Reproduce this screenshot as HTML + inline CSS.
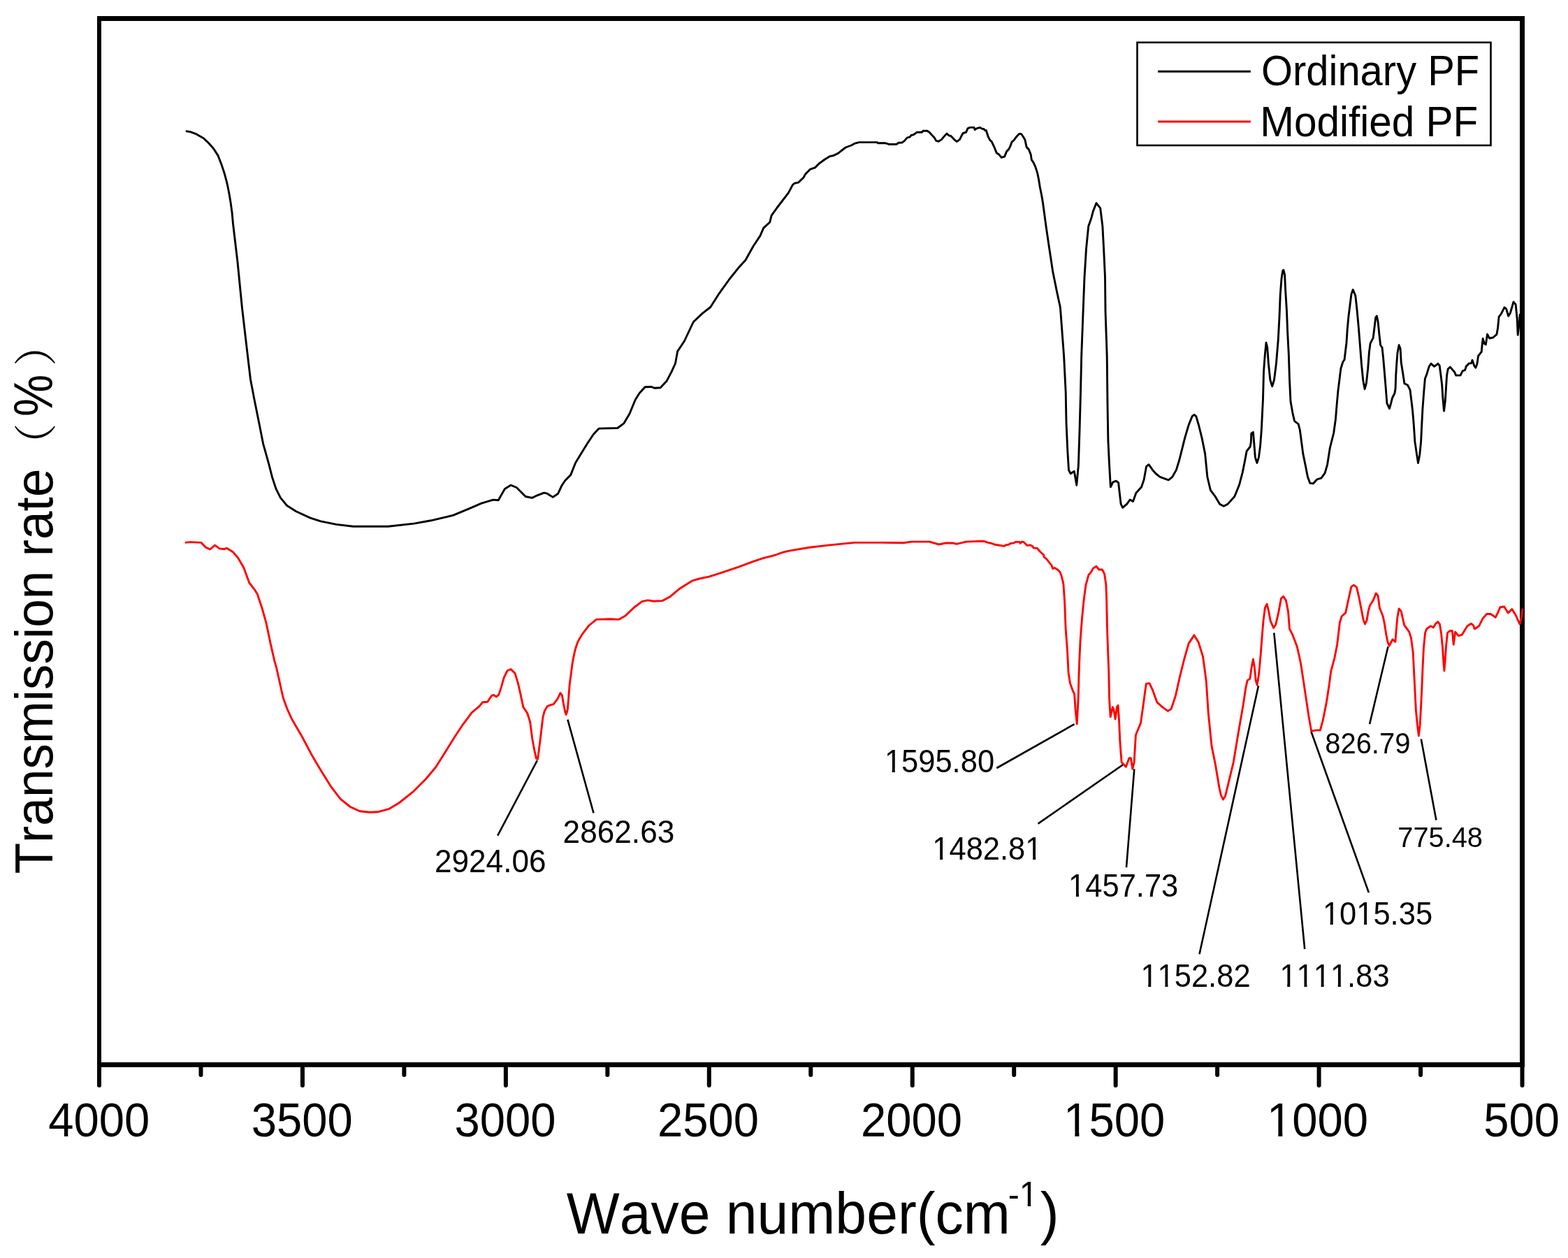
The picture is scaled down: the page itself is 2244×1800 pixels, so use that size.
<!DOCTYPE html>
<html><head><meta charset="utf-8"><title>FTIR spectra</title><style>html,body{margin:0;padding:0;background:#fff}body{width:2244px;height:1800px;overflow:hidden}svg{display:block}text{font-kerning:none;font-variant-ligatures:none;font-feature-settings:"kern" 0,"liga" 0}</style></head><body>
<svg width="2244" height="1800" viewBox="0 0 2244 1800" font-family='"Liberation Sans", Arial, "Noto Sans CJK SC", sans-serif' fill="#000">
<rect x="0" y="0" width="2244" height="1800" fill="#fff"/>
<rect x="139" y="23" width="2043" height="7"/>
<rect x="139" y="1520" width="2043" height="7"/>
<rect x="139" y="23" width="6" height="1504"/>
<rect x="2175" y="23" width="7" height="1504"/>
<polyline points="265.8,187.6 272.3,188.6 279.7,191.3 290.8,197.4 298.2,204.3 305.7,212.7 312.2,222.9 316.8,234.9 321.4,248.8 325.1,262.8 327.9,276.7 330.2,290.6 332.1,304.5 333.5,320.0 339.9,374.2 346.4,440.0 353.7,502.6 358.5,543.0 364.1,572.2 369.7,600.0 376.6,634.8 384.8,664.1 389.5,682.7 395.0,699.4 401.5,712.4 410.8,723.5 423.8,731.8 444.2,741.1 459.0,745.8 481.3,750.4 505.4,753.2 555.5,753.2 592.6,749.1 616.8,744.8 648.3,737.4 670.6,728.1 689.1,720.1 705.8,715.1 713.2,715.7 722.5,699.4 730.9,694.2 739.2,697.5 752.2,710.5 761.5,712.4 766.9,709.7 778.5,705.1 783.1,706.2 791.2,711.4 798.7,706.2 804.0,694.7 808.6,687.7 816.7,679.6 823.6,662.3 830.6,650.7 839.8,635.7 849.1,621.8 857.2,613.1 883.8,612.5 893.0,605.6 901.1,591.7 909.2,572.0 915.0,562.8 923.1,553.8 932.3,553.5 937.0,555.3 945.1,554.7 954.3,544.9 961.2,531.6 966.5,520.0 969.7,502.6 979.4,488.0 992.4,460.5 1005.3,448.4 1016.7,439.5 1028.0,421.7 1044.2,399.0 1057.2,382.8 1066.9,372.3 1078.2,352.0 1087.9,337.4 1092.8,326.1 1101.7,318.0 1104.1,308.3 1112.2,297.0 1128.4,275.9 1134.5,264.4 1137.4,262.2 1142.6,261.1 1150.0,254.0 1152.3,249.6 1159.7,242.1 1166.4,239.9 1172.3,234.0 1180.5,228.0 1187.9,223.6 1193.1,222.5 1199.8,219.1 1203.5,216.2 1210.1,211.0 1218.3,208.0 1222.8,205.4 1229.4,203.6 1255.4,203.6 1256.2,204.7 1266.5,204.7 1272.5,206.5 1282.9,206.5 1285.8,204.3 1290.9,204.1 1294.5,201.4 1298.1,197.1 1302.3,195.9 1304.1,193.5 1307.7,192.6 1312.0,189.3 1319.2,189.3 1321.0,187.2 1327.0,187.2 1330.1,189.3 1332.5,192.0 1337.3,197.1 1339.7,201.4 1343.3,202.3 1347.5,199.6 1350.6,195.9 1354.8,191.1 1358.4,194.1 1360.8,194.4 1365.6,199.6 1369.3,202.6 1373.5,199.6 1376.5,193.5 1378.3,190.5 1382.5,189.3 1384.9,183.9 1388.0,182.4 1394.0,182.4 1395.2,185.7 1397.6,183.9 1402.4,182.4 1405.5,184.2 1407.9,184.5 1410.0,186.9 1411.3,186.5 1413.9,194.8 1416.5,200.1 1419.2,202.7 1422.6,209.8 1426.3,218.9 1429.0,220.4 1433.1,225.3 1437.6,224.1 1440.6,216.6 1443.6,213.6 1445.9,209.1 1448.1,203.1 1451.1,200.5 1454.1,196.3 1458.6,191.4 1461.7,191.8 1464.7,196.3 1466.9,200.1 1469.2,210.6 1472.2,213.6 1475.2,221.1 1476.3,228.6 1478.9,232.4 1482.0,239.2 1484.6,247.4 1486.5,256.5 1488.3,267.7 1490.6,279.0 1492.5,290.3 1497.0,323.8 1501.8,356.2 1506.7,388.6 1512.3,416.2 1517.4,440.0 1522.6,509.4 1525.2,561.5 1526.0,604.8 1527.8,644.8 1529.5,672.5 1532.1,677.7 1537.3,674.3 1540.8,694.2 1543.4,665.6 1545.1,613.5 1546.5,561.5 1547.7,509.4 1550.3,440.0 1552.0,396.7 1554.5,356.2 1557.7,323.8 1561.7,312.5 1564.2,302.8 1569.0,290.6 1574.7,297.9 1577.9,323.8 1579.6,356.2 1581.5,396.7 1582.0,445.0 1584.2,509.4 1585.0,578.8 1585.9,630.9 1587.6,665.6 1589.4,696.8 1592.8,689.9 1597.2,688.1 1600.6,690.7 1604.1,721.1 1606.7,726.3 1612.8,721.1 1617.1,715.0 1621.5,717.6 1625.8,705.5 1633.6,696.8 1637.1,686.4 1640.6,667.3 1644.0,664.7 1651.0,674.3 1654.5,678.0 1660.0,682.4 1672.3,686.9 1677.8,682.4 1683.4,672.4 1687.8,658.0 1692.3,640.1 1695.6,626.8 1701.2,607.9 1706.2,595.6 1709.0,593.4 1711.8,595.6 1715.7,609.0 1720.1,626.8 1724.6,649.1 1727.9,682.5 1732.4,701.4 1739.1,710.3 1745.7,721.4 1751.3,724.2 1756.9,721.4 1766.9,710.3 1773.6,693.6 1778.0,676.9 1781.4,660.2 1784.1,645.7 1789.2,639.0 1790.3,632.4 1790.8,620.1 1793.4,618.4 1794.7,633.5 1796.4,654.6 1798.9,662.4 1801.4,654.6 1803.6,637.9 1805.3,615.7 1806.4,593.4 1807.5,571.1 1808.5,532.0 1810.2,508.8 1812.0,490.3 1813.7,497.2 1815.4,520.4 1817.8,543.5 1820.7,552.8 1823.5,543.5 1826.4,520.4 1829.3,485.7 1831.1,451.0 1832.2,422.1 1834.0,398.9 1835.7,387.4 1836.8,386.2 1838.6,393.1 1839.7,416.3 1841.5,445.2 1842.6,474.1 1844.4,508.8 1845.5,543.5 1847.0,574.5 1850.4,593.4 1852.6,602.3 1858.2,606.8 1860.4,615.7 1862.6,632.4 1864.8,649.1 1868.2,665.8 1871.5,682.5 1874.9,691.4 1879.3,691.9 1884.9,685.8 1890.8,684.1 1896.1,676.9 1899.7,664.3 1903.3,641.0 1908.7,619.5 1911.4,600.0 1913.1,579.3 1914.9,559.6 1917.2,541.1 1918.9,527.2 1921.8,518.0 1924.1,514.5 1925.3,504.1 1927.0,490.2 1928.2,471.7 1929.9,453.2 1932.2,434.7 1934.0,420.8 1936.3,414.5 1939.8,423.1 1942.1,444.0 1944.4,469.4 1946.7,498.3 1948.5,521.5 1950.8,544.6 1953.1,556.7 1955.4,548.1 1957.7,527.2 1959.4,504.1 1961.1,491.4 1965.2,483.3 1966.9,469.4 1968.7,454.4 1970.4,452.1 1972.2,461.3 1973.9,478.7 1975.6,493.7 1978.0,497.2 1979.7,513.4 1981.4,533.0 1983.2,555.0 1984.9,577.0 1988.5,584.5 1990.8,576.4 1992.5,569.5 1996.0,562.5 1997.1,555.6 1997.7,537.1 1998.9,518.6 2000.0,504.7 2002.1,493.7 2004.1,498.9 2005.2,518.6 2007.6,533.6 2009.9,548.7 2014.5,551.0 2018.0,557.9 2019.7,571.8 2021.4,585.7 2023.2,606.5 2024.9,631.9 2027.8,651.6 2029.5,662.6 2031.8,650.5 2033.6,631.9 2034.7,608.8 2035.9,585.7 2037.6,562.5 2039.4,541.7 2041.7,535.9 2045.2,524.4 2048.0,520.3 2052.7,524.4 2057.9,520.3 2060.2,523.2 2061.9,535.9 2063.7,551.0 2064.8,568.3 2066.5,588.0 2068.3,574.1 2069.4,555.6 2070.6,537.1 2072.3,527.8 2075.4,525.1 2081.6,532.4 2083.7,537.1 2090.0,537.1 2093.1,530.9 2096.7,529.3 2098.3,524.1 2102.5,519.9 2105.6,519.9 2107.1,515.3 2109.7,523.1 2111.8,526.2 2113.9,521.0 2115.5,509.5 2120.2,503.3 2121.2,492.9 2122.2,484.5 2124.3,491.8 2126.4,492.9 2128.5,478.3 2131.6,484.0 2136.8,483.0 2142.0,478.3 2143.6,468.9 2145.1,453.3 2148.3,449.1 2153.0,439.8 2155.6,441.9 2158.7,452.3 2161.3,448.1 2166.0,432.0 2169.1,435.6 2171.2,456.4 2172.2,479.3 2174.3,461.6 2175.3,449.1" fill="none" stroke="#000" stroke-width="2.9" stroke-linejoin="round" stroke-linecap="butt"/>
<polyline points="264.8,776.4 272.4,775.6 288.0,776.4 294.3,783.1 300.7,786.0 307.6,780.2 314.0,784.9 320.9,785.7 324.4,784.3 333.7,790.1 340.6,798.2 348.7,812.1 356.8,834.0 364.9,844.4 368.4,850.2 375.3,871.0 381.1,891.9 386.9,919.6 392.7,945.1 395.5,955.0 399.7,973.7 405.3,998.7 410.9,1014.0 417.8,1029.3 431.7,1053.0 445.7,1079.4 459.6,1103.1 473.5,1125.3 487.4,1143.4 501.3,1154.5 515.2,1160.8 529.1,1162.2 540.3,1161.8 557.0,1157.3 570.9,1149.0 591.8,1132.3 609.8,1114.2 623.8,1097.5 640.4,1071.0 651.6,1053.0 662.7,1036.3 675.2,1019.6 685.9,1010.6 690.8,1004.7 697.7,1004.2 703.6,995.4 706.5,994.4 710.5,996.9 713.9,993.9 717.4,983.1 721.3,969.3 726.2,959.5 731.1,957.5 737.0,963.4 741.0,976.2 744.9,992.9 748.8,1011.6 754.7,1020.5 758.7,1033.2 761.6,1055.9 764.6,1072.6 767.5,1085.4 769.5,1086.3 771.4,1072.6 774.4,1048.0 776.9,1026.4 779.3,1017.5 783.2,1010.6 788.2,1008.7 792.1,1007.7 798.0,999.8 801.9,991.5 804.4,994.9 806.4,1006.7 808.8,1018.5 810.3,1022.4 812.3,1015.5 813.7,998.8 815.2,979.2 817.2,964.4 819.1,949.7 820.5,942.0 823.0,930.0 827.0,918.0 833.9,906.6 842.3,895.5 853.4,886.4 872.9,885.7 885.4,886.4 895.1,880.9 907.7,869.0 918.8,860.7 927.1,858.9 935.5,860.3 948.0,859.6 959.1,853.7 973.1,841.9 991.1,830.8 1000.9,828.0 1014.8,825.2 1035.7,818.3 1056.5,811.3 1077.4,803.7 1091.3,798.8 1105.2,795.3 1110.0,794.0 1120.0,790.4 1129.5,788.1 1158.7,783.2 1187.9,779.9 1223.0,776.4 1262.0,776.4 1293.1,776.8 1304.8,775.1 1330.1,775.1 1343.8,779.0 1353.5,777.0 1363.3,777.0 1369.1,778.4 1382.7,775.1 1406.0,774.2 1409.6,774.8 1413.9,776.3 1419.3,777.5 1424.1,779.3 1430.1,780.2 1437.4,781.4 1439.2,779.9 1443.4,779.3 1446.4,777.5 1451.3,776.9 1453.1,775.4 1459.1,775.4 1460.3,777.5 1462.1,775.1 1465.1,775.7 1469.9,780.5 1474.8,779.9 1478.4,782.3 1479.0,784.1 1484.4,784.4 1488.6,789.5 1493.5,793.8 1494.1,796.8 1497.7,799.8 1502.5,805.8 1504.9,808.8 1506.7,813.7 1509.1,812.5 1513.4,814.9 1517.0,818.5 1519.4,825.1 1521.2,832.4 1522.0,836.8 1523.6,860.3 1525.1,899.3 1527.5,930.5 1529.0,961.8 1531.4,977.4 1535.3,988.3 1537.6,993.0 1539.2,1016.4 1541.2,1035.9 1543.1,1000.8 1543.9,969.6 1544.7,946.2 1546.2,914.9 1548.6,883.7 1550.9,860.3 1554.0,836.8 1557.9,822.8 1561.8,818.1 1564.2,813.4 1568.9,810.3 1572.8,815.0 1577.4,815.0 1580.6,821.2 1582.9,836.8 1583.7,860.3 1584.5,899.3 1585.6,930.5 1586.8,961.8 1587.6,1000.8 1589.2,1025.8 1592.3,1011.7 1593.8,1014.9 1596.2,1028.9 1598.5,1011.7 1600.1,1009.4 1601.6,1032.0 1602.8,1059.6 1605.1,1090.8 1611.4,1097.1 1616.1,1084.6 1618.4,1084.6 1620.8,1100.2 1623.1,1090.8 1625.4,1051.8 1632.5,1034.6 1635.6,1012.7 1640.3,978.4 1645.0,977.6 1649.7,987.7 1655.9,1004.9 1663.7,1011.9 1671.5,1017.4 1676.2,1014.3 1682.4,995.5 1688.7,967.4 1694.9,942.5 1701.2,920.6 1709.0,908.9 1715.2,919.0 1721.5,939.3 1726.2,973.7 1729.3,1020.5 1734.0,1067.4 1739.4,1093.9 1744.9,1126.7 1747.3,1137.6 1750.4,1143.9 1753.5,1139.2 1755.8,1129.8 1765.2,1090.8 1773.0,1044.0 1779.3,1008.0 1782.5,986.3 1785.1,973.6 1788.9,971.1 1790.8,957.1 1793.4,943.1 1795.3,954.5 1797.2,973.6 1799.1,980.0 1801.6,964.7 1804.2,936.7 1806.1,911.3 1808.0,888.4 1810.5,869.3 1813.1,864.2 1815.6,874.4 1818.2,888.4 1822.6,898.5 1825.8,893.4 1829.6,876.9 1833.4,856.5 1836.6,853.4 1840.4,859.1 1843.6,875.6 1845.5,899.8 1850.0,908.7 1856.3,925.3 1861.4,948.2 1865.3,973.6 1869.1,999.1 1872.9,1024.5 1876.7,1046.1 1883.1,1044.9 1889.4,1044.9 1893.2,1030.9 1898.3,1005.4 1902.2,980.0 1904.7,960.9 1909.8,941.8 1913.6,922.7 1917.4,890.9 1920.0,882.0 1925.7,876.9 1927.6,868.0 1931.4,850.2 1933.9,839.7 1937.4,837.1 1941.4,840.2 1944.9,854.7 1948.3,872.1 1951.2,887.1 1953.5,892.9 1955.9,888.2 1958.2,874.4 1960.5,866.3 1965.1,859.3 1969.2,848.9 1972.1,852.4 1974.4,869.7 1979.0,881.3 1981.3,891.7 1983.6,906.8 1985.9,918.3 1988.2,924.1 1992.9,914.9 1996.9,918.3 1998.1,903.3 1999.8,883.6 2002.1,870.9 2005.3,875.0 2009.7,894.4 2016.7,904.1 2019.4,912.5 2022.2,933.3 2023.6,961.0 2025.0,988.8 2026.4,1016.6 2028.5,1037.4 2030.3,1052.7 2032.2,1037.4 2033.3,1016.6 2034.7,988.8 2036.1,954.1 2037.5,926.3 2039.6,905.5 2041.6,900.0 2047.2,895.8 2051.4,897.9 2054.1,893.0 2057.6,889.6 2060.4,893.0 2062.5,905.5 2064.5,926.3 2065.9,947.2 2066.9,959.7 2068.0,947.2 2069.4,926.3 2071.5,905.5 2075.0,902.5 2078.4,902.7 2080.2,922.2 2082.6,904.1 2087.5,909.7 2092.3,908.3 2099.9,895.8 2105.5,892.3 2108.3,894.4 2110.4,900.0 2116.6,895.8 2122.2,884.7 2127.7,878.5 2133.3,878.5 2140.2,883.3 2143.0,877.8 2147.1,868.7 2152.7,868.0 2158.2,877.1 2163.8,871.5 2169.3,880.5 2174.9,893.0 2177.7,881.9 2179.1,870.8" fill="none" stroke="#f00" stroke-width="2.9" stroke-linejoin="round" stroke-linecap="butt"/>
<line x1="768.8" y1="1088.1" x2="712.2" y2="1195.7" stroke="#000" stroke-width="2.6"/>
<line x1="812.4" y1="1029.7" x2="849.5" y2="1163.3" stroke="#000" stroke-width="2.6"/>
<line x1="1537.6" y1="1036.1" x2="1426.3" y2="1099" stroke="#000" stroke-width="2.6"/>
<line x1="1607" y1="1094.3" x2="1485.5" y2="1178.6" stroke="#000" stroke-width="2.6"/>
<line x1="1623.3" y1="1100.4" x2="1612" y2="1241.2" stroke="#000" stroke-width="2.6"/>
<line x1="1801" y1="981.2" x2="1716.5" y2="1365.3" stroke="#000" stroke-width="2.6"/>
<line x1="1823.3" y1="905.5" x2="1867.2" y2="1358" stroke="#000" stroke-width="2.6"/>
<line x1="1876.5" y1="1047" x2="1958.9" y2="1277.2" stroke="#000" stroke-width="2.6"/>
<line x1="1986.5" y1="925.3" x2="1960.1" y2="1036" stroke="#000" stroke-width="2.6"/>
<line x1="2033.8" y1="1057.5" x2="2055.4" y2="1173.5" stroke="#000" stroke-width="2.6"/>
<text transform="translate(621.88,1247.70) scale(1,1.045)" font-size="44.2">2924.06</text>
<text transform="translate(805.58,1205.90) scale(1,1.045)" font-size="44.2">2862.63</text>
<text transform="translate(1265.89,1104.50) scale(1,1.045)" font-size="43.5">1595.80</text>
<text transform="translate(1334.29,1229.60) scale(1,1.045)" font-size="43.5">1482.81</text>
<text transform="translate(1529.09,1283.10) scale(1,1.045)" font-size="43.5">1457.73</text>
<text transform="translate(1632.39,1412.30) scale(1,1.045)" font-size="43.5">1152.82</text>
<text transform="translate(1831.39,1412.30) scale(1,1.045)" font-size="43.5">1111.83</text>
<text transform="translate(1892.89,1323.00) scale(1,1.045)" font-size="43.5">1015.35</text>
<text transform="translate(1896.16,1078.20) scale(1,1.045)" font-size="40">826.79</text>
<text transform="translate(2000.26,1212.10) scale(1,1.045)" font-size="39.8">775.48</text>
<line x1="142.00" y1="1524" x2="142.00" y2="1553" stroke="#000" stroke-width="6" stroke-linecap="round"/>
<line x1="432.93" y1="1524" x2="432.93" y2="1553" stroke="#000" stroke-width="6" stroke-linecap="round"/>
<line x1="723.86" y1="1524" x2="723.86" y2="1553" stroke="#000" stroke-width="6" stroke-linecap="round"/>
<line x1="1014.79" y1="1524" x2="1014.79" y2="1553" stroke="#000" stroke-width="6" stroke-linecap="round"/>
<line x1="1305.72" y1="1524" x2="1305.72" y2="1553" stroke="#000" stroke-width="6" stroke-linecap="round"/>
<line x1="1596.65" y1="1524" x2="1596.65" y2="1553" stroke="#000" stroke-width="6" stroke-linecap="round"/>
<line x1="1887.58" y1="1524" x2="1887.58" y2="1553" stroke="#000" stroke-width="6" stroke-linecap="round"/>
<line x1="2178.51" y1="1524" x2="2178.51" y2="1553" stroke="#000" stroke-width="6" stroke-linecap="round"/>
<line x1="287.47" y1="1524" x2="287.47" y2="1538" stroke="#000" stroke-width="6" stroke-linecap="round"/>
<line x1="578.39" y1="1524" x2="578.39" y2="1538" stroke="#000" stroke-width="6" stroke-linecap="round"/>
<line x1="869.33" y1="1524" x2="869.33" y2="1538" stroke="#000" stroke-width="6" stroke-linecap="round"/>
<line x1="1160.26" y1="1524" x2="1160.26" y2="1538" stroke="#000" stroke-width="6" stroke-linecap="round"/>
<line x1="1451.19" y1="1524" x2="1451.19" y2="1538" stroke="#000" stroke-width="6" stroke-linecap="round"/>
<line x1="1742.12" y1="1524" x2="1742.12" y2="1538" stroke="#000" stroke-width="6" stroke-linecap="round"/>
<line x1="2033.05" y1="1524" x2="2033.05" y2="1538" stroke="#000" stroke-width="6" stroke-linecap="round"/>
<text transform="translate(69.20,1625.90) scale(1,1.045)" font-size="65.2">4000</text>
<text transform="translate(359.64,1625.90) scale(1,1.045)" font-size="65.2">3500</text>
<text transform="translate(650.57,1625.90) scale(1,1.045)" font-size="65.2">3000</text>
<text transform="translate(941.10,1625.90) scale(1,1.045)" font-size="65.2">2500</text>
<text transform="translate(1232.03,1625.90) scale(1,1.045)" font-size="65.2">2000</text>
<text transform="translate(1522.12,1625.90) scale(1,1.045)" font-size="65.2">1500</text>
<text transform="translate(1813.05,1625.90) scale(1,1.045)" font-size="65.2">1000</text>
<text transform="translate(2123.29,1625.90) scale(1,1.045)" font-size="65.2">500</text>
<rect x="1627.5" y="60.75" width="506" height="147.25" fill="#fff" stroke="#000" stroke-width="2.6"/>
<line x1="1657.1" y1="102.3" x2="1789.8" y2="102.3" stroke="#000" stroke-width="3"/>
<line x1="1657.1" y1="174" x2="1789.8" y2="174" stroke="#f00" stroke-width="3"/>
<text transform="translate(1804.96,122.00) scale(1,1.045)" font-size="57.95">Ordinary PF</text>
<text transform="translate(1803.20,194.70) scale(1,1.045)" font-size="58.5">Modified PF</text>
<text transform="translate(810.65,1764.50) scale(1,1.045)" font-size="80.5">Wave number(cm</text>
<text transform="translate(1442.77,1725.80) scale(1,1.045)" font-size="48">-1</text>
<text transform="translate(1488.63,1764.50) scale(1,1.045)" font-size="80.5">)</text>
<text transform="translate(75.2,1250.6) rotate(-90) scale(1,1.045)" font-size="73">Transmission rate</text>
<text transform="translate(72.6,667.6) rotate(-90)" font-size="61.9" font-family='"Noto Serif CJK SC", "Noto Sans CJK SC", serif'>（</text>
<text transform="translate(75.4,596.1) rotate(-90) scale(1,1.161)" font-size="67.8">%</text>
<text transform="translate(72.6,523.95) rotate(-90)" font-size="61.9" font-family='"Noto Serif CJK SC", "Noto Sans CJK SC", serif'>）</text>
<rect x="1268.27" y="1099.90" width="8.45" height="5.80" fill="#fff"/>
<rect x="1280.77" y="1099.90" width="8.11" height="5.80" fill="#fff"/>
<rect x="1336.67" y="1225.00" width="8.45" height="5.80" fill="#fff"/>
<rect x="1349.17" y="1225.00" width="8.11" height="5.80" fill="#fff"/>
<rect x="1469.72" y="1225.00" width="8.45" height="5.80" fill="#fff"/>
<rect x="1482.22" y="1225.00" width="8.11" height="5.80" fill="#fff"/>
<rect x="1531.47" y="1278.50" width="8.45" height="5.80" fill="#fff"/>
<rect x="1543.97" y="1278.50" width="8.11" height="5.80" fill="#fff"/>
<rect x="1634.77" y="1407.70" width="8.45" height="5.80" fill="#fff"/>
<rect x="1647.27" y="1407.70" width="8.11" height="5.80" fill="#fff"/>
<rect x="1658.97" y="1407.70" width="8.45" height="5.80" fill="#fff"/>
<rect x="1671.46" y="1407.70" width="8.11" height="5.80" fill="#fff"/>
<rect x="1833.77" y="1407.70" width="8.45" height="5.80" fill="#fff"/>
<rect x="1846.27" y="1407.70" width="8.11" height="5.80" fill="#fff"/>
<rect x="1857.97" y="1407.70" width="8.45" height="5.80" fill="#fff"/>
<rect x="1870.46" y="1407.70" width="8.11" height="5.80" fill="#fff"/>
<rect x="1882.16" y="1407.70" width="8.45" height="5.80" fill="#fff"/>
<rect x="1894.65" y="1407.70" width="8.11" height="5.80" fill="#fff"/>
<rect x="1906.35" y="1407.70" width="8.45" height="5.80" fill="#fff"/>
<rect x="1918.85" y="1407.70" width="8.11" height="5.80" fill="#fff"/>
<rect x="1895.27" y="1318.40" width="8.45" height="5.80" fill="#fff"/>
<rect x="1907.77" y="1318.40" width="8.11" height="5.80" fill="#fff"/>
<rect x="1943.66" y="1318.40" width="8.45" height="5.80" fill="#fff"/>
<rect x="1956.15" y="1318.40" width="8.11" height="5.80" fill="#fff"/>
<rect x="1526.09" y="1619.61" width="12.32" height="7.49" fill="#fff"/>
<rect x="1544.38" y="1619.61" width="11.81" height="7.49" fill="#fff"/>
<rect x="1817.02" y="1619.61" width="12.32" height="7.49" fill="#fff"/>
<rect x="1835.31" y="1619.61" width="11.81" height="7.49" fill="#fff"/>
<rect x="1461.47" y="1720.85" width="9.25" height="6.15" fill="#fff"/>
<rect x="1475.16" y="1720.85" width="8.88" height="6.15" fill="#fff"/>
</svg></body></html>
